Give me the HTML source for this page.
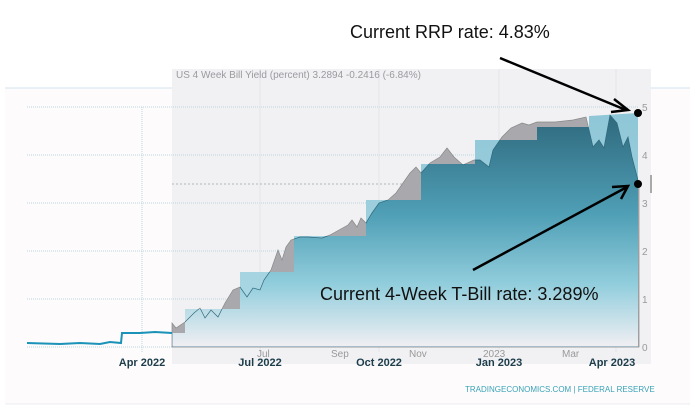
<!DOCTYPE html>
<html><head><meta charset="utf-8"><style>
html,body{margin:0;padding:0;background:#fff;}
svg{display:block;font-family:"Liberation Sans",sans-serif;}
</style></head><body>
<svg width="690" height="409" viewBox="0 0 690 409" xmlns="http://www.w3.org/2000/svg">
<defs>
<linearGradient id="dk" x1="0" y1="107" x2="0" y2="345" gradientUnits="userSpaceOnUse">
<stop offset="0" stop-color="#2c6478"/>
<stop offset="0.45" stop-color="#4f9fb6"/>
<stop offset="0.75" stop-color="#93cedd"/>
<stop offset="1" stop-color="#eeeef2"/>
</linearGradient>
<linearGradient id="lb" x1="0" y1="107" x2="0" y2="345" gradientUnits="userSpaceOnUse">
<stop offset="0" stop-color="#8ec6d7"/>
<stop offset="0.8" stop-color="#a9d6e2"/>
<stop offset="1" stop-color="#eeeef2"/>
</linearGradient>
<clipPath id="rc"><polygon points="172,347 172,333 185,333 185,309 240,309 240,272 294,272 294,236 366,236 366,200 421,200 421,164 475,164 475,140 537,140 537,127 589,127 589,116 638,113 638,347"/></clipPath>
</defs>
<rect x="0" y="0" width="690" height="409" fill="#fff"/>
<rect x="5" y="88" width="685" height="316" fill="#fdfbfc"/>
<line x1="5" y1="88" x2="690" y2="88" stroke="#d3e3ee" stroke-width="1"/>
<line x1="5" y1="404" x2="690" y2="404" stroke="#eceef2" stroke-width="1"/>
<rect x="172" y="69" width="479" height="295" fill="#f1f1f4"/>
<g stroke="#b9d6dd" stroke-width="1" stroke-dasharray="1,1">
<line x1="27" y1="107" x2="638" y2="107"/><line x1="27" y1="155" x2="638" y2="155"/>
<line x1="27" y1="203" x2="638" y2="203"/><line x1="27" y1="251" x2="638" y2="251"/>
<line x1="27" y1="299" x2="638" y2="299"/><line x1="27" y1="347" x2="638" y2="347"/>
<line x1="142" y1="107" x2="142" y2="352"/>
</g>
<g stroke="#e2e4ea" stroke-width="1">
<line x1="260" y1="69" x2="260" y2="352"/><line x1="379" y1="69" x2="379" y2="352"/>
<line x1="499" y1="69" x2="499" y2="352"/><line x1="616" y1="69" x2="616" y2="352"/>
</g>
<line x1="172" y1="184" x2="638" y2="184" stroke="#9aa" stroke-width="0.7" stroke-dasharray="2,2"/>
<text x="176" y="78" font-size="10" fill="#9a9a9f">US 4 Week Bill Yield (percent) 3.2894  -0.2416 (-6.84%)</text>
<polygon fill="#a9a9ad" stroke="#888" stroke-width="0.7" points="172,347 172,323 176,328 185,322 194,313 200,308 205,318 211,310 218,317 225,303 233,290 240,287 247,297 253,288 260,290 264,280 271,270 278,250 282,260 286,247 291,240 300,237 308,237 322,238 330,235 339,230 348,225 352,220 357,227 361,218 366,223 372,213 379,203 388,200 396,193 403,183 410,173 416,167 421,173 430,163 440,157 447,148 454,157 463,165 474,160 480,160 489,167 493,150 502,137 511,128 522,123 529,125 537,122 555,122 573,120 586,117 593,147 599,140 604,148 610,115 617,123 623,147 628,137 632,157 639,184 639,347"/>
<polygon fill="url(#lb)" points="172,347 172,333 185,333 185,309 240,309 240,272 294,272 294,236 366,236 366,200 421,200 421,164 475,164 475,140 537,140 537,127 589,127 589,116 638,113 638,347"/>
<g clip-path="url(#rc)">
<polygon fill="url(#dk)" stroke="#2f687c" stroke-width="0.7" points="172,347 172,323 176,328 185,322 194,313 200,308 205,318 211,310 218,317 225,303 233,290 240,287 247,297 253,288 260,290 264,280 271,270 278,250 282,260 286,247 291,240 300,237 308,237 322,238 330,235 339,230 348,225 352,220 357,227 361,218 366,223 372,213 379,203 388,200 396,193 403,183 410,173 416,167 421,173 430,163 440,157 447,148 454,157 463,165 474,160 480,160 489,167 493,150 502,137 511,128 522,123 529,125 537,122 555,122 573,120 586,117 593,147 599,140 604,148 610,115 617,123 623,147 628,137 632,157 639,184 639,347"/>
</g>
<polyline fill="none" stroke="#1b93b8" stroke-width="2" points="27,343 60,344 80,343 100,344 110,342 121,343 122,333 140,333 155,332 172,333"/>
<g font-size="10" fill="#999">
<text x="642" y="111">5</text><text x="642" y="159">4</text><text x="642" y="207">3</text>
<text x="642" y="255">2</text><text x="642" y="303">1</text><text x="642" y="351">0</text>
<text x="257" y="357">Jul</text><text x="331" y="357">Sep</text><text x="409" y="357">Nov</text>
<text x="483" y="357">2023</text><text x="562" y="357">Mar</text>
</g>
<rect x="650" y="175" width="2" height="18" fill="#aaa"/>
<g font-size="11" font-weight="bold" fill="#1d3d4a" text-anchor="middle">
<text x="142" y="366">Apr 2022</text><text x="260" y="366">Jul 2022</text>
<text x="379" y="366">Oct 2022</text><text x="499" y="366">Jan 2023</text><text x="612" y="366">Apr 2023</text>
</g>
<text x="465" y="392" font-size="8" fill="#3aa3b8">TRADINGECONOMICS.COM  |  FEDERAL RESERVE</text>
<text x="350" y="38" font-size="18" fill="#111">Current RRP rate: 4.83%</text>
<text x="320" y="300" font-size="18" fill="#111">Current 4-Week T-Bill rate: 3.289%</text>
<g stroke="#000" stroke-width="2.5" fill="none">
<line x1="500" y1="58" x2="626" y2="110"/>
<polyline points="614,99 628,110 611,112"/>
<line x1="473" y1="270" x2="627" y2="187"/>
<polyline points="612,187 628,186 621,199"/>
</g>
<circle cx="638" cy="113" r="4" fill="#000"/>
<circle cx="638" cy="184" r="4" fill="#000"/>
</svg>
</body></html>
